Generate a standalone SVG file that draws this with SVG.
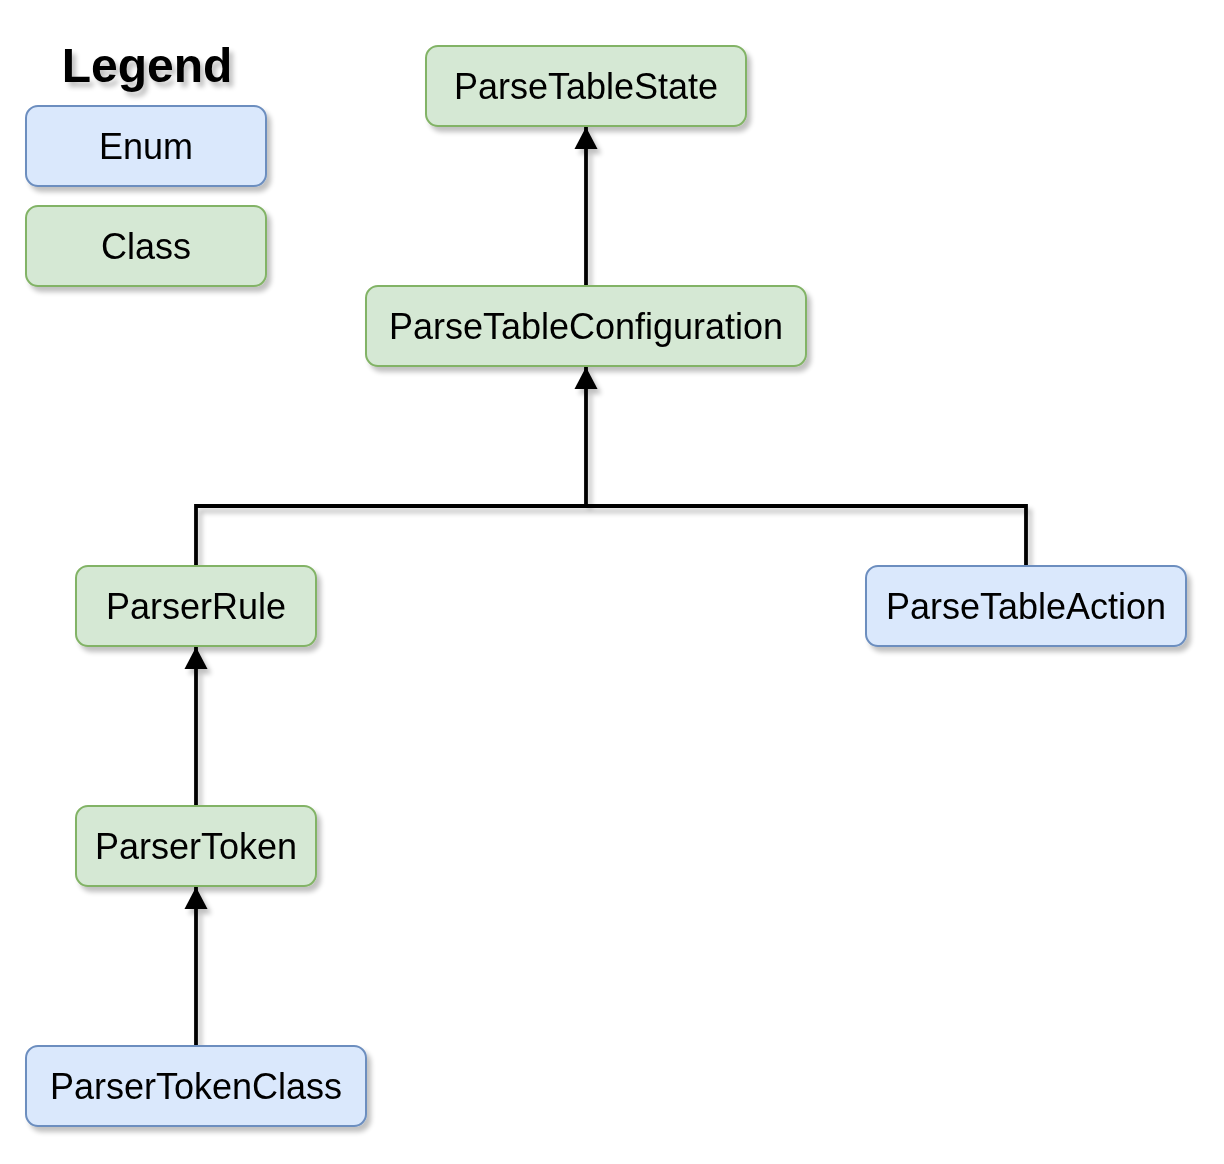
<svg xmlns="http://www.w3.org/2000/svg" width="1224" height="1164" viewBox="0 0 1224 1164">
<defs>
<filter id="sh" x="-20%" y="-20%" width="140%" height="160%">
<feGaussianBlur in="SourceAlpha" stdDeviation="2.5"/>
<feOffset dx="4" dy="5" result="b"/>
<feComponentTransfer><feFuncA type="linear" slope="0.25"/></feComponentTransfer>
<feMerge><feMergeNode/><feMergeNode in="SourceGraphic"/></feMerge>
</filter>
<marker id="arr" markerUnits="userSpaceOnUse" markerWidth="24" markerHeight="24" viewBox="0 0 24 24" refX="22" refY="12" orient="auto">
<path d="M0,0.5 L22,12 L0,23.5 Z" fill="#000"/>
</marker>
</defs>
<style>
.box{stroke-width:2}
.enum{fill:#dae8fc;stroke:#6c8ebf}
.cls{fill:#d5e8d4;stroke:#82b366}
text{font-family:"Liberation Sans",Arial,sans-serif;font-size:36px;fill:#000;text-anchor:middle}
.edge{fill:none;stroke:#000;stroke-width:3.8}
</style>
<rect width="1224" height="1164" fill="#fff"/>
<g id="legend-title" filter="url(#sh)"><text x="147" y="82" style="font-weight:bold;font-size:48px">Legend</text></g>
<g id="legend-enum" filter="url(#sh)"><rect class="box enum" x="26" y="106" width="240" height="80" rx="12"/><text x="146" y="159">Enum</text></g>
<g id="legend-class" filter="url(#sh)"><rect class="box cls" x="26" y="206" width="240" height="80" rx="12"/><text x="146" y="259">Class</text></g>
<g id="connectors" filter="url(#sh)">
<path class="edge" d="M586,286 L586,127" marker-end="url(#arr)"/>
<path class="edge" d="M196,566 L196,506 L586,506 L586,367" marker-end="url(#arr)"/>
<path class="edge" d="M1026,566 L1026,506 L586,506"/>
<path class="edge" d="M196,806 L196,647" marker-end="url(#arr)"/>
<path class="edge" d="M196,1046 L196,887" marker-end="url(#arr)"/>
</g>
<g id="ParseTableState" filter="url(#sh)"><rect class="box cls" x="426" y="46" width="320" height="80" rx="12"/><text x="586" y="99">ParseTableState</text></g>
<g id="ParseTableConfiguration" filter="url(#sh)"><rect class="box cls" x="366" y="286" width="440" height="80" rx="12"/><text x="586" y="339">ParseTableConfiguration</text></g>
<g id="ParserRule" filter="url(#sh)"><rect class="box cls" x="76" y="566" width="240" height="80" rx="12"/><text x="196" y="619">ParserRule</text></g>
<g id="ParseTableAction" filter="url(#sh)"><rect class="box enum" x="866" y="566" width="320" height="80" rx="12"/><text x="1026" y="619">ParseTableAction</text></g>
<g id="ParserToken" filter="url(#sh)"><rect class="box cls" x="76" y="806" width="240" height="80" rx="12"/><text x="196" y="859">ParserToken</text></g>
<g id="ParserTokenClass" filter="url(#sh)"><rect class="box enum" x="26" y="1046" width="340" height="80" rx="12"/><text x="196" y="1099">ParserTokenClass</text></g>
</svg>
